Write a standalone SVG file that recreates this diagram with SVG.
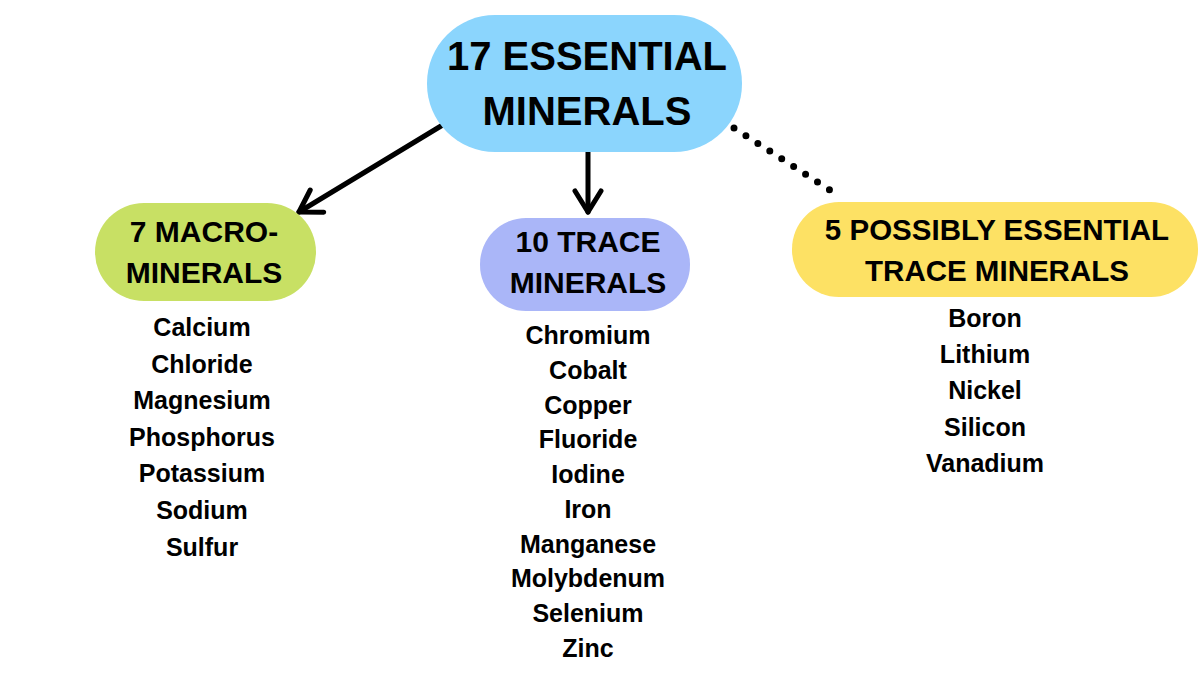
<svg xmlns="http://www.w3.org/2000/svg" width="1200" height="675" viewBox="0 0 1200 675">
<defs>
<marker id="arr" viewBox="-26 -16 30 32" refX="0" refY="0" markerWidth="30" markerHeight="32" markerUnits="userSpaceOnUse" orient="auto">
<path d="M-21,-13 L0,0 L-21,13" fill="none" stroke="#000" stroke-width="5" stroke-linecap="round" stroke-linejoin="round"/>
</marker>
<style>
.t{font-family:"Liberation Sans",Arial,sans-serif;font-weight:bold;fill:#000;text-anchor:middle}
.h1{font-size:40px}
.h2{font-size:30px}
.li{font-size:25px}
.ln{stroke:#000;stroke-width:5;fill:none;stroke-linecap:round}
</style>
</defs>
<rect width="1200" height="675" fill="#fff"/>
<g id="connectors">
<line class="ln" x1="441" y1="126" x2="299" y2="212" marker-end="url(#arr)"/>
<line class="ln" x1="588" y1="152" x2="588" y2="212" marker-end="url(#arr)"/>
<line x1="734" y1="128" x2="830" y2="190" stroke="#000" stroke-width="7" stroke-linecap="round" stroke-dasharray="0 14.2"/>
</g>
<g id="essential">
<rect x="427" y="15" width="315" height="137" rx="68" fill="#8bd5fd"/>
<text class="t h1" x="587" y="70">17 ESSENTIAL</text>
<text class="t h1" x="587" y="125">MINERALS</text>
</g>
<g id="macro">
<rect x="95" y="203" width="221" height="98" rx="49" fill="#c8e064"/>
<text class="t h2" x="204" y="242">7 MACRO-</text>
<text class="t h2" x="204" y="283">MINERALS</text>
</g>
<g id="trace">
<rect x="480" y="218" width="210" height="93" rx="46" fill="#aab6f8"/>
<text class="t h2" x="588" y="252">10 TRACE</text>
<text class="t h2" x="588" y="293">MINERALS</text>
</g>
<g id="possibly">
<rect x="792" y="202" width="406" height="95" rx="47" fill="#fde164"/>
<text class="t h2" x="997" y="240" style="font-size:29.5px">5 POSSIBLY ESSENTIAL</text>
<text class="t h2" x="997" y="281" style="font-size:29.5px">TRACE MINERALS</text>
</g>
<g id="macro-list">
<text class="t li" x="202" y="336">Calcium</text>
<text class="t li" x="202" y="373">Chloride</text>
<text class="t li" x="202" y="409">Magnesium</text>
<text class="t li" x="202" y="446">Phosphorus</text>
<text class="t li" x="202" y="482">Potassium</text>
<text class="t li" x="202" y="519">Sodium</text>
<text class="t li" x="202" y="556">Sulfur</text>
</g>
<g id="trace-list">
<text class="t li" x="588" y="344">Chromium</text>
<text class="t li" x="588" y="379">Cobalt</text>
<text class="t li" x="588" y="414">Copper</text>
<text class="t li" x="588" y="448">Fluoride</text>
<text class="t li" x="588" y="483">Iodine</text>
<text class="t li" x="588" y="518">Iron</text>
<text class="t li" x="588" y="553">Manganese</text>
<text class="t li" x="588" y="587">Molybdenum</text>
<text class="t li" x="588" y="622">Selenium</text>
<text class="t li" x="588" y="657">Zinc</text>
</g>
<g id="possibly-list">
<text class="t li" x="985" y="327">Boron</text>
<text class="t li" x="985" y="363">Lithium</text>
<text class="t li" x="985" y="399">Nickel</text>
<text class="t li" x="985" y="436">Silicon</text>
<text class="t li" x="985" y="472">Vanadium</text>
</g>
</svg>
